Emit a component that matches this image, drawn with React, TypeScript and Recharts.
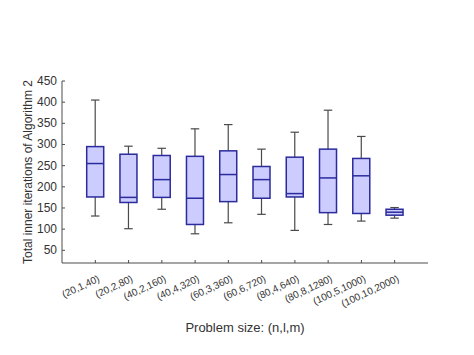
import { Bar, ComposedChart, XAxis, YAxis } from "recharts";

const categories = [
  "(20,1,40)",
  "(20,2,80)",
  "(40,2,160)",
  "(40,4,320)",
  "(60,3,360)",
  "(60,6,720)",
  "(80,4,640)",
  "(80,8,1280)",
  "(100,5,1000)",
  "(100,10,2000)",
];
const whiskerLow = [131, 101, 147, 89, 115, 135, 97, 111, 119, 126];
const q1 = [176, 163, 175, 111, 165, 173, 176, 139, 137, 133];
const median = [255, 175, 217, 173, 229, 217, 184, 221, 226, 140];
const q3 = [295, 277, 274, 272, 285, 248, 270, 289, 267, 147];
const whiskerHigh = [405, 296, 291, 337, 347, 289, 329, 381, 319, 151];
const yTicks = [50, 100, 150, 200, 250, 300, 350, 400, 450];

const data = categories.map((name, i) => ({
  name,
  lo: whiskerLow[i],
  q1: q1[i],
  med: median[i],
  q3: q3[i],
  hi: whiskerHigh[i],
}));

const AXIS = "#4d4d4d";
const EDGE = "#2b2b9c";
const FILL = "#ccccff";
const WHISKER = "#4a4a4a";

function BoxShape(props: any) {
  const { x, y, width, height, payload } = props;
  const top = Math.min(y, y + height);
  const bottom = Math.max(y, y + height);
  const span = payload.hi - payload.lo;
  const py = (v: number) => bottom - ((v - payload.lo) / span) * (bottom - top);
  const cx = x + width / 2;
  const cap = width / 4;
  return (
    <g>
      <line x1={cx} x2={cx} y1={py(payload.hi)} y2={py(payload.q3)} stroke={WHISKER} strokeWidth={1.2} />
      <line x1={cx} x2={cx} y1={py(payload.q1)} y2={py(payload.lo)} stroke={WHISKER} strokeWidth={1.2} />
      <line x1={cx - cap} x2={cx + cap} y1={py(payload.hi)} y2={py(payload.hi)} stroke={WHISKER} strokeWidth={1.2} />
      <line x1={cx - cap} x2={cx + cap} y1={py(payload.lo)} y2={py(payload.lo)} stroke={WHISKER} strokeWidth={1.2} />
      <rect
        x={x}
        y={py(payload.q3)}
        width={width}
        height={py(payload.q1) - py(payload.q3)}
        fill={FILL}
        stroke={EDGE}
        strokeWidth={1.5}
      />
      <line x1={x} x2={x + width} y1={py(payload.med)} y2={py(payload.med)} stroke={EDGE} strokeWidth={1.5} />
    </g>
  );
}

function YTick(props: any) {
  const { x, y, payload } = props;
  return (
    <g>
      <line x1={x + 5} x2={x + 8} y1={y} y2={y} stroke={AXIS} />
      <text x={x} y={y} textAnchor="end" dominantBaseline="central" fontSize={12} fill="#333">
        {payload.value}
      </text>
    </g>
  );
}

function XTick(props: any) {
  const { x, y, payload } = props;
  const tx = x + 5;
  const ty = y + 18;
  return (
    <g>
      <line x1={x} x2={x} y1={y} y2={y - 3} stroke={AXIS} />
      <text x={tx} y={ty} textAnchor="end" fontSize={10} fill="#333" transform={`rotate(-25, ${tx}, ${ty})`}>
        {payload.value}
      </text>
    </g>
  );
}

export default function App() {
  return (
    <div style={{ position: "absolute", left: 0, top: 0, background: "#fff" }}>
      <ComposedChart
        width={474}
        height={355}
        data={data}
        margin={{ top: 81, right: 46, bottom: 22, left: -6 }}
        style={{ fontFamily: "'Liberation Sans', Arial, sans-serif" }}
      >
        <XAxis
          dataKey="name"
          interval={0}
          height={70}
          padding={{ left: 16.7, right: 16.7 }}
          tickLine={false}
          tickSize={0}
          tickMargin={0}
          tick={<XTick />}
          stroke={AXIS}
          label={{ value: "Problem size: (n,l,m)", position: "insideBottom", offset: 1, fontSize: 13, fill: "#333" }}
        />
        <YAxis
          domain={[20, 450]}
          ticks={yTicks}
          interval={0}
          width={68}
          tickLine={false}
          tickSize={0}
          tickMargin={5}
          tick={<YTick />}
          stroke={AXIS}
          label={{
            value: "Total inner iterations of Algorithm 2",
            angle: -90,
            position: "center",
            fontSize: 12,
            fill: "#333",
          }}
        />
        <Bar
          dataKey={(d: any) => [d.lo, d.hi]}
          barSize={17}
          shape={<BoxShape />}
          isAnimationActive={false}
        />
      </ComposedChart>
    </div>
  );
}
